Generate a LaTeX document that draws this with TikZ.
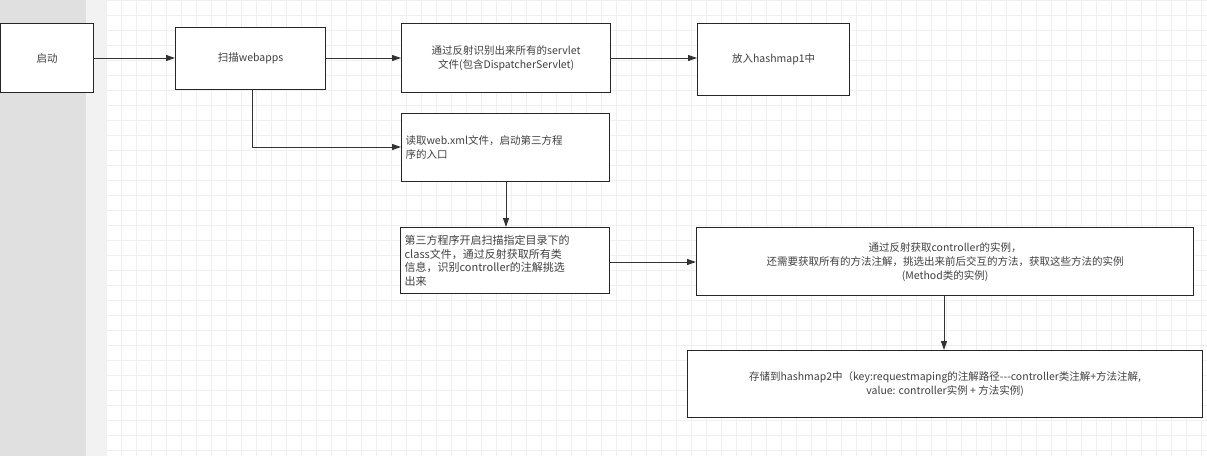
\documentclass[tikz,border=0pt]{standalone}
\usepackage{fontspec}
\setmainfont{Noto Sans CJK SC}
\usetikzlibrary{arrows.meta}
\begin{document}
\begin{tikzpicture}[x=1pt,y=-1pt,
  box/.style={draw=black!85,line width=1.2pt,fill=white,text=black!75,font=\fontsize{10.5}{14}\selectfont,align=center,inner sep=2pt},
  arr/.style={draw=black!80,line width=1pt,-{Triangle[length=9pt,width=6pt]}}]
\useasboundingbox (0,0) rectangle (1207,456);
\fill[black!12] (0,0) rectangle (86,456);
\fill[black!5] (86,0) rectangle (106,456);
\foreach \x in {106,121,...,1207} \draw[black!6,line width=0.5pt] (\x,0) -- (\x,456);
\foreach \y in {0,15,...,456} \draw[black!6,line width=0.5pt] (106,\y) -- (1207,\y);
\node[box,minimum width=93pt,minimum height=69pt,anchor=north west] (a) at (0,23) {启动};
\node[box,minimum width=150pt,minimum height=62pt,anchor=north west] (b) at (175,27) {扫描webapps};
\node[box,minimum width=209pt,minimum height=69pt,anchor=north west] (c) at (401,23) {通过反射识别出来所有的servlet\\文件(包含DispatcherServlet)};
\node[box,minimum height=72pt,anchor=north west,minimum width=152pt] (d) at (697,23) {放入hashmap1中};
\node[box,minimum height=68pt,anchor=north west,align=left,text width=200pt,inner xsep=4pt] (e) at (401,113) {读取web.xml文件，启动第三方程\\序的入口};
\node[box,minimum height=66pt,anchor=north west,align=left,text width=201pt,inner xsep=4pt,font=\fontsize{11}{13.5}\selectfont] (f) at (400,227) {第三方程序开启扫描指定目录下的\\class文件，通过反射获取所有类\\信息，识别controller的注解挑选\\出来};
\node[box,minimum width=497pt,minimum height=68pt,anchor=north west] (g) at (696,227) {通过反射获取controller的实例，\\还需要获取所有的方法注解，挑选出来前后交互的方法，获取这些方法的实例\\(Method类的实例)};
\node[box,minimum width=515pt,minimum height=67pt,anchor=north west] (h) at (687,350) {存储到hashmap2中（key:requestmaping的注解路径{-}{-}{-}controller类注解+方法注解,\\value: controller实例 + 方法实例)};
\draw[arr] (a.east |- 0,58) -- (b.west |- 0,58);
\draw[arr] (b.east |- 0,58) -- (c.west |- 0,58);
\draw[arr] (c.east |- 0,58) -- (d.west |- 0,58);
\draw[arr] (b.south -| 252,0) |- (e.west |- 0,147);
\draw[arr] (e.south -| 506,0) -- (f.north -| 506,0);
\draw[arr] (f.east |- 0,262) -- (g.west |- 0,262);
\draw[arr] (g.south -| 944,0) -- (h.north -| 944,0);
\end{tikzpicture}
\end{document}
